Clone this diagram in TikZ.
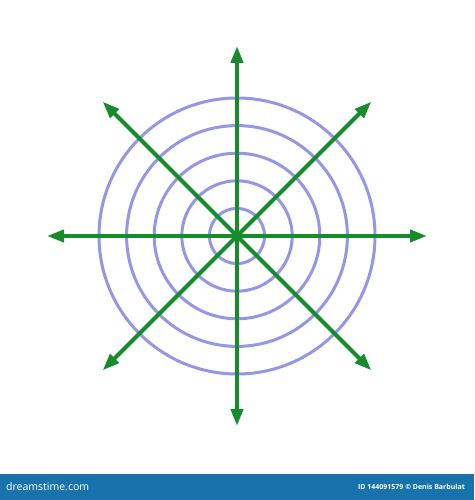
\documentclass[tikz,border=0pt]{standalone}
\usepackage{fontspec}
\setmainfont{Open Sans}
\usetikzlibrary{arrows.meta,calc}
\definecolor{ringblue}{RGB}{150,150,232}
\definecolor{arrowgreen}{RGB}{22,140,44}
\definecolor{barblue}{RGB}{24,114,172}
\tikzset{
	ring/.style={draw=ringblue,line width=3pt},
	ray/.style={draw=arrowgreen,line width=4pt,-{Triangle[length=17pt,width=12pt]}},
}
\begin{document}
\begin{tikzpicture}[x=1pt,y=1pt]
	\useasboundingbox (0,0) rectangle (474,500);
	\fill[white] (0,0) rectangle (474,500);
	\coordinate (O) at (237,264);
	% rings
	\foreach \r in {1,...,5}
		\draw[ring] (O) circle ({27.6*\r});
	% rays
	\foreach \a in {0,45,...,315}
		\coordinate (R\a) at ($(O)+(\a:190)$);
	\foreach \a in {0,45,...,315}
		\draw[ray] (O) -- (R\a);
	% bottom bar
	\fill[barblue] (0,0) rectangle (474,26);
	\node[anchor=west,text=white,font=\fontsize{10.5}{12}\selectfont,inner sep=0] (site) at (6,13) {dreamstime.com};
	\node[anchor=east,text=white,font=\fontsize{7}{8}\selectfont\bfseries,inner sep=0] (credit) at (465,13) {ID 144091579 © Denis Barbulat};
\end{tikzpicture}
\end{document}
